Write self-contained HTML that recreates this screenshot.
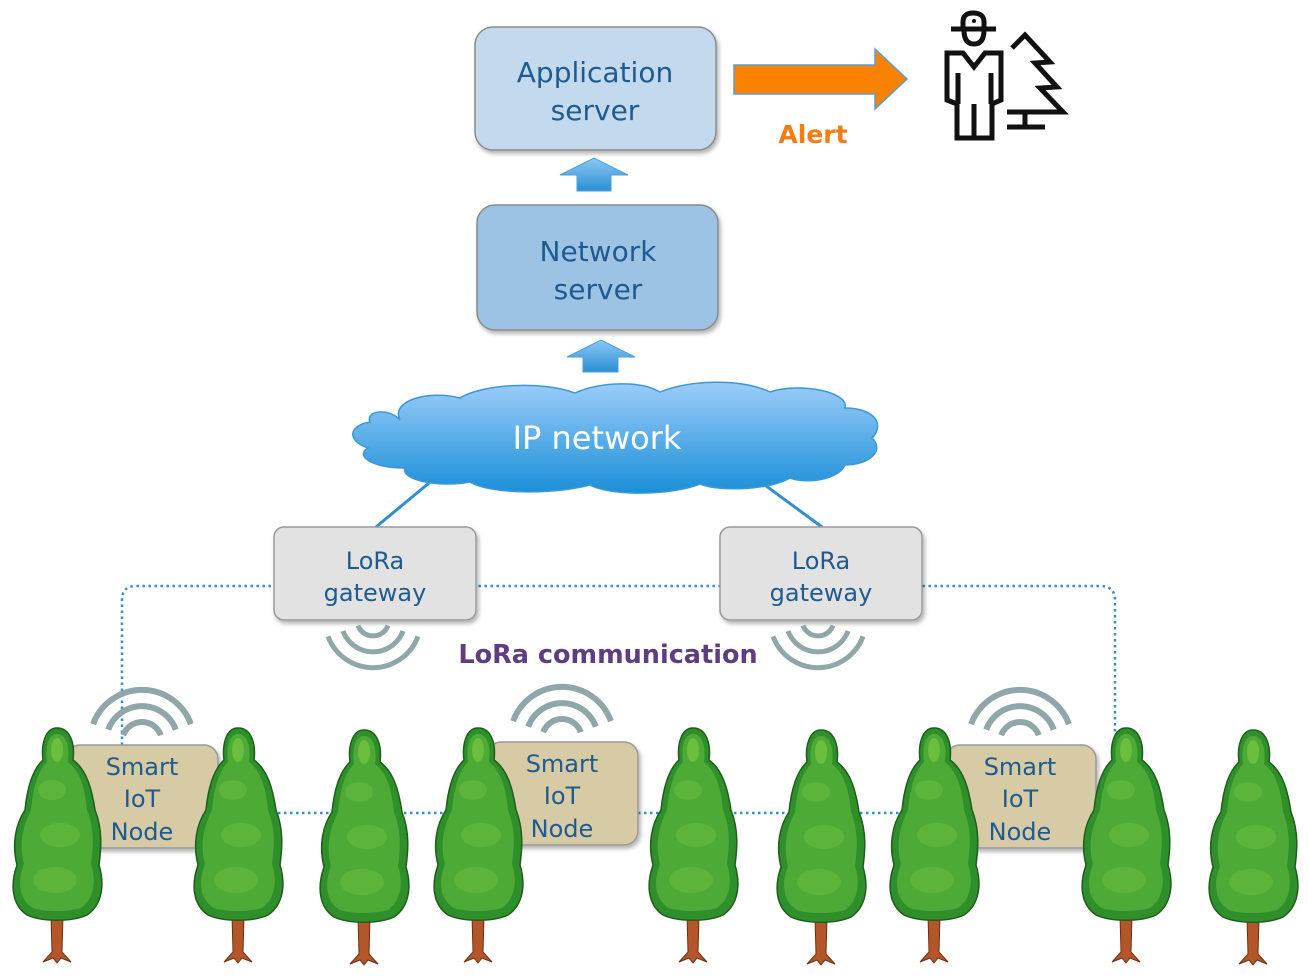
<!DOCTYPE html>
<html><head><meta charset="utf-8"><style>
html,body{margin:0;padding:0;background:#fff;}
svg{display:block;}
text{font-family:"DejaVu Sans","Liberation Sans",sans-serif;}
</style></head><body>
<svg width="1308" height="977" viewBox="0 0 1308 977" xmlns="http://www.w3.org/2000/svg">
<defs>
<linearGradient id="cloud" x1="0" y1="0" x2="0" y2="1">
<stop offset="0" stop-color="#9ccdfa"/><stop offset="1" stop-color="#1a8fd8"/></linearGradient>
<linearGradient id="upar" x1="0" y1="0" x2="0" y2="1">
<stop offset="0" stop-color="#8cc8f2"/><stop offset="1" stop-color="#2a8fd4"/></linearGradient>
<filter id="sh" x="-10%" y="-10%" width="130%" height="130%"><feDropShadow dx="2" dy="3" stdDeviation="2" flood-color="#000" flood-opacity="0.3"/></filter>
<g id="tree">
<path d="M-6,-45 L-5,-8 L-14,2 L-4,-2 L0,3 L4,-2 L14,2 L5,-8 L6,-45Z" fill="#b5562a" stroke="#6b3010" stroke-width="1"/>
<path d="M0,-232 C14,-232 18,-215 16,-200 C30,-190 35,-170 38,-150 C46,-130 44,-110 42,-95 C48,-75 45,-55 30,-45 C15,-38 -15,-38 -30,-45 C-45,-55 -47,-75 -40,-95 C-45,-115 -42,-135 -32,-150 C-30,-170 -25,-190 -14,-200 C-16,-215 -12,-232 0,-232Z" fill="#2f8f2a" stroke="#1f5e1a" stroke-width="1.5"/>
<path d="M0,-226 C10,-226 13,-212 11,-198 C24,-188 28,-170 30,-150 C38,-130 36,-112 34,-96 C40,-78 36,-60 24,-52 C10,-48 -12,-48 -24,-52 C-38,-60 -40,-78 -33,-96 C-38,-114 -35,-132 -26,-150 C-24,-170 -20,-188 -10,-198 C-12,-212 -9,-226 0,-226Z" fill="#4eaa36"/>
<ellipse cx="0" cy="-210" rx="6" ry="12" fill="#6bbf3e"/>
<ellipse cx="-5" cy="-170" rx="14" ry="10" fill="#5db43a"/>
<ellipse cx="3" cy="-125" rx="20" ry="12" fill="#5db43a"/>
<ellipse cx="-2" cy="-80" rx="22" ry="13" fill="#5db43a"/>
</g>
<g id="wifiU" fill="none" stroke="#8fa7a8" stroke-width="6">
<path d="M-18.8,3.2 A20,20 0 0 1 18.8,3.2"/><path d="M-33.8,-2.3 A36,36 0 0 1 33.8,-2.3"/><path d="M-48.9,-7.8 A52,52 0 0 1 48.9,-7.8"/>
</g>
<g id="wifiD" fill="none" stroke="#8fa7a8" stroke-width="5">
<path d="M-15,5.5 A16,16 0 0 0 15,5.5"/><path d="M-30,11 A32,32 0 0 0 30,11"/><path d="M-45,16.4 A48,48 0 0 0 45,16.4"/>
</g>
</defs>

<g fill="none" stroke="#2f8fd0" stroke-width="2.5" stroke-dasharray="2.5 3.5">
<path d="M122,745 L122,600 Q122,586 136,586 L1100,586 Q1115,586 1115,600 L1115,735"/>
<path d="M218,813 L946,813"/>
</g>

<rect x="475" y="27" width="241" height="123" rx="18" fill="#c3d9ed" stroke="#8a8a8a" stroke-width="1.5" filter="url(#sh)"/>
<text x="595" y="82" font-size="28" fill="#1f5a90" text-anchor="middle">Application</text>
<text x="595" y="120" font-size="28" fill="#1f5a90" text-anchor="middle">server</text>
<path d="M560,175 L594,158 L628,175 L611,175 L611,191 L577,191 L577,175Z" fill="url(#upar)" stroke="#4aa0dc" stroke-width="1"/>
<rect x="477" y="205" width="241" height="125" rx="18" fill="#9dc3e4" stroke="#8a8a8a" stroke-width="1.5" filter="url(#sh)"/>
<text x="598" y="261" font-size="28" fill="#1f5a90" text-anchor="middle">Network</text>
<text x="598" y="299" font-size="28" fill="#1f5a90" text-anchor="middle">server</text>
<path d="M567,357 L601,340 L635,357 L618,357 L618,372 L583,372 L583,357Z" fill="url(#upar)" stroke="#4aa0dc" stroke-width="1"/>

<path d="M734,65 L875,65 L875,49 L907,79 L875,109 L875,94 L734,94Z" fill="#f98300" stroke="#5b9bd5" stroke-width="1.5"/>
<text x="813" y="143" font-size="25" font-weight="bold" fill="#f57c14" text-anchor="middle">Alert</text>

<g fill="none" stroke="#111" stroke-width="5" stroke-linejoin="miter">
<path d="M951,29 L996,29"/>
<path d="M963,29 L963,22 Q963,13 973,13 Q984,13 984,22 L984,29"/>
<path d="M964,30 Q964,44 974,44 Q984,44 984,30"/>
<path d="M947,100 L947,53 L963,53 L974,67 L985,53 L1001,53 L1001,100 L992,104 L992,138 L957,138 L957,104 L947,100Z"/>
<path d="M958,73 L958,104 M991,73 L991,104 M974,104 L974,138"/>
<path d="M1012,48 L1025,35 L1050,62 L1035,63 L1057,87 L1040,88 L1063,112 L1007,112 M1025,112 L1025,127 M1007,127 L1045,127"/>
</g>
<circle cx="974" cy="21" r="2" fill="#111"/>

<path d="M435,478 L376,527" stroke="#2f8fd0" stroke-width="3"/>
<path d="M758,480 L822,527" stroke="#2f8fd0" stroke-width="3"/>

<path d="M400,420 C390,400 430,390 460,398 C480,385 540,380 575,393 C600,382 640,380 660,392 C690,380 740,378 770,392 C800,382 850,392 845,408 C875,408 885,425 872,438 C885,450 870,465 845,465 C840,478 810,485 790,478 C770,490 720,492 700,484 C670,496 610,496 590,485 C550,495 490,494 470,482 C440,488 400,480 405,468 C370,468 355,455 368,448 C345,440 350,425 370,422 C365,410 390,408 400,420Z" fill="url(#cloud)" stroke="#3a98d8" stroke-width="1.5"/>
<text x="597" y="449" font-size="32" fill="#fff" text-anchor="middle">IP network</text>

<rect x="274" y="527" width="202" height="93" rx="10" fill="#e2e2e2" stroke="#999" stroke-width="1.5" filter="url(#sh)"/>
<text x="375" y="569" font-size="24" fill="#1f5a90" text-anchor="middle">LoRa</text>
<text x="375" y="601" font-size="24" fill="#1f5a90" text-anchor="middle">gateway</text>
<rect x="720" y="527" width="202" height="93" rx="10" fill="#e2e2e2" stroke="#999" stroke-width="1.5" filter="url(#sh)"/>
<text x="821" y="569" font-size="24" fill="#1f5a90" text-anchor="middle">LoRa</text>
<text x="821" y="601" font-size="24" fill="#1f5a90" text-anchor="middle">gateway</text>
<use href="#wifiD" x="373" y="620"/>
<use href="#wifiD" x="818" y="620"/>
<text x="608" y="663" font-size="25.5" font-weight="bold" fill="#5f3d7e" text-anchor="middle">LoRa communication</text>

<use href="#wifiU" x="142" y="732"/>
<use href="#wifiU" x="562" y="729"/>
<use href="#wifiU" x="1020" y="732"/>

<rect x="66" y="745" width="152" height="103" rx="14" fill="#d6cba4" stroke="#999" stroke-width="1.5" filter="url(#sh)"/>
<text x="142" y="775" font-size="24" fill="#1f5a90" text-anchor="middle">Smart</text>
<text x="142" y="807" font-size="24" fill="#1f5a90" text-anchor="middle">IoT</text>
<text x="142" y="840" font-size="24" fill="#1f5a90" text-anchor="middle">Node</text>
<rect x="487" y="742" width="151" height="103" rx="14" fill="#d6cba4" stroke="#999" stroke-width="1.5" filter="url(#sh)"/>
<text x="562" y="772" font-size="24" fill="#1f5a90" text-anchor="middle">Smart</text>
<text x="562" y="804" font-size="24" fill="#1f5a90" text-anchor="middle">IoT</text>
<text x="562" y="837" font-size="24" fill="#1f5a90" text-anchor="middle">Node</text>
<rect x="946" y="745" width="150" height="103" rx="14" fill="#d6cba4" stroke="#999" stroke-width="1.5" filter="url(#sh)"/>
<text x="1020" y="775" font-size="24" fill="#1f5a90" text-anchor="middle">Smart</text>
<text x="1020" y="807" font-size="24" fill="#1f5a90" text-anchor="middle">IoT</text>
<text x="1020" y="840" font-size="24" fill="#1f5a90" text-anchor="middle">Node</text>

<use href="#tree" x="57" y="960"/>
<use href="#tree" x="238" y="960"/>
<use href="#tree" x="364" y="962"/>
<use href="#tree" x="478" y="960"/>
<use href="#tree" x="693" y="960"/>
<use href="#tree" x="821" y="962"/>
<use href="#tree" x="934" y="960"/>
<use href="#tree" x="1126" y="960"/>
<use href="#tree" x="1253" y="962"/>
</svg>
</body></html>
